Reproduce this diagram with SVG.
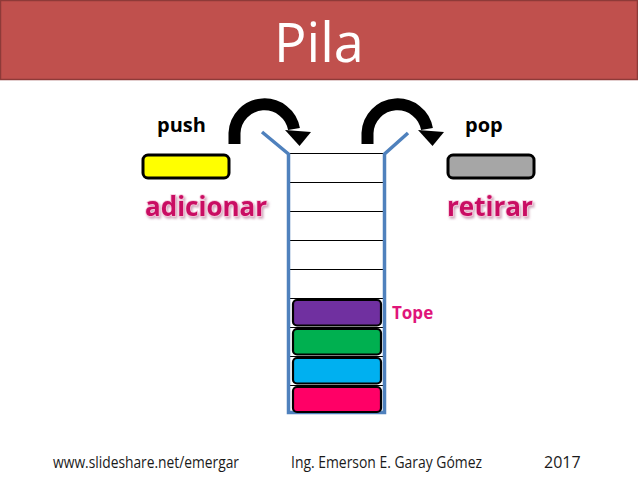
<svg xmlns="http://www.w3.org/2000/svg" width="638" height="479" viewBox="0 0 638 479">
<style>
.lbl{font-family:"Open Sans","Liberation Sans",sans-serif;font-weight:bold;fill:#000}
.word{font-family:"Open Sans","Liberation Sans",sans-serif;font-weight:bold;font-size:26px;fill:#C90F63;stroke:#F7C6DA;stroke-width:1.6;paint-order:stroke}
.foot{font-family:"Open Sans","Liberation Sans",sans-serif;font-size:16px;fill:#1a1a1a}
.div{stroke:#000;stroke-width:1.2}
.blk{stroke:#000;stroke-width:2.2}
.arc{fill:none;stroke:#000;stroke-width:12}
</style>
<defs>
<filter id="sh" x="-10%" y="-20%" width="130%" height="160%">
<feDropShadow dx="1.5" dy="2" stdDeviation="1.2" flood-color="#b07090" flood-opacity="0.6"/>
</filter>
</defs>
<rect width="638" height="479" fill="#fff"/>
<g id="header">
<rect x="0.5" y="0.5" width="637" height="79" fill="#C0504D" stroke="#8E3A38" stroke-width="1.5"/>
<text x="319" y="62" text-anchor="middle" font-family="Open Sans, Liberation Sans, sans-serif" font-size="54" fill="#fff">Pila</text>
</g>
<g id="stack">
<g class="div">
<line x1="289" y1="153.5" x2="384" y2="153.5"/>
<line x1="289" y1="182.5" x2="384" y2="182.5"/>
<line x1="289" y1="211.5" x2="384" y2="211.5"/>
<line x1="289" y1="240.5" x2="384" y2="240.5"/>
<line x1="289" y1="269.5" x2="384" y2="269.5"/>
<line x1="289" y1="298.5" x2="384" y2="298.5"/>
<line x1="289" y1="327.5" x2="384" y2="327.5"/>
<line x1="289" y1="356.5" x2="384" y2="356.5"/>
<line x1="289" y1="385.5" x2="384" y2="385.5"/>
</g>
<polyline points="262,132 288.5,154 288.5,412.5 384.5,412.5 384.5,154 408,133" fill="none" stroke="#4F81BD" stroke-width="3.5" stroke-linejoin="miter"/>
</g>
<g id="block-purple"><rect class="blk" x="293" y="300" width="88" height="25.5" rx="4" fill="#7030A0"/></g>
<g id="block-green"><rect class="blk" x="293" y="329" width="88" height="25.5" rx="4" fill="#00B050"/></g>
<g id="block-blue"><rect class="blk" x="293" y="358" width="88" height="25.5" rx="4" fill="#00B0F0"/></g>
<g id="block-pink"><rect class="blk" x="293" y="387" width="88" height="25" rx="4" fill="#FF0066"/></g>
<g id="tope"><text x="392" y="319" font-family="Open Sans, Liberation Sans, sans-serif" font-weight="bold" font-size="17" fill="#E0157A">Tope</text></g>
<g id="push">
<text class="lbl" x="157" y="132" font-size="20">push</text>
<rect x="143" y="155" width="86" height="23" rx="5" fill="#FFFF00" stroke="#000" stroke-width="3"/>
<text class="word" x="145" y="216" filter="url(#sh)">adicionar</text>
</g>
<g id="pop">
<text class="lbl" x="465" y="132" font-size="20">pop</text>
<rect x="448" y="155" width="86" height="23" rx="5" fill="#A6A6A6" stroke="#000" stroke-width="3"/>
<text class="word" x="447" y="216" filter="url(#sh)">retirar</text>
</g>
<g id="connectors">
<path class="arc" d="M234.5,144 L234.5,133 A30,30 0 0 1 294,129"/>
<polygon points="285,130 311,132 299.5,146" fill="#000"/>
<path class="arc" d="M367.5,144 L367.5,133 A30,30 0 0 1 427,129"/>
<polygon points="418,130 444,132 432.5,146" fill="#000"/>
</g>
<g id="footer">
<text class="foot" x="53" y="468" textLength="186" lengthAdjust="spacingAndGlyphs">www.slideshare.net/emergar</text>
<text class="foot" x="291" y="468" textLength="191" lengthAdjust="spacingAndGlyphs">Ing. Emerson E. Garay Gómez</text>
<text class="foot" x="544" y="468">2017</text>
</g>
</svg>
